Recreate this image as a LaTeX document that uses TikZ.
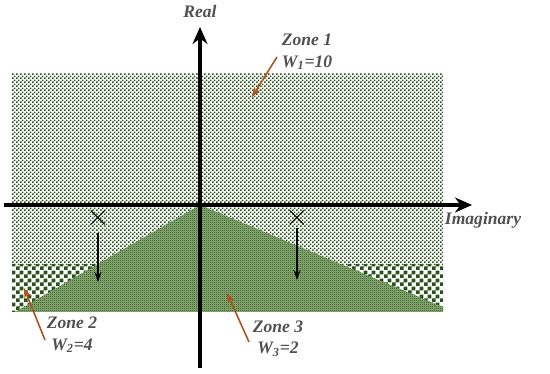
\documentclass[tikz,border=0pt]{standalone}
\usepackage{fontspec}
\setmainfont{Liberation Serif}
\usepackage{xcolor}
\usepackage{tikz}
\usetikzlibrary{arrows.meta,patterns,positioning}

\definecolor{zonegreen}{RGB}{38,84,24}
\definecolor{zonefill}{RGB}{140,170,118}
\definecolor{pointer}{RGB}{176,82,30}
\definecolor{labelgray}{RGB}{80,80,80}

% dotted pattern for zone 1
\pgfdeclarepatternformonly{zone dots}{\pgfqpoint{0pt}{0pt}}{\pgfqpoint{2.4pt}{2.4pt}}{\pgfqpoint{2.4pt}{2.4pt}}{
  \pgfpathrectangle{\pgfqpoint{0pt}{0pt}}{\pgfqpoint{1.1pt}{1.1pt}}
  \pgfpathrectangle{\pgfqpoint{1.2pt}{1.2pt}}{\pgfqpoint{1.1pt}{1.1pt}}
  \pgfusepath{fill}}
% coarse checker for zone 2
\pgfdeclarepatternformonly{zone checker}{\pgfqpoint{0pt}{0pt}}{\pgfqpoint{4.6pt}{4.6pt}}{\pgfqpoint{4.6pt}{4.6pt}}{
  \pgfpathrectangle{\pgfqpoint{0pt}{0pt}}{\pgfqpoint{2.3pt}{2.3pt}}
  \pgfpathrectangle{\pgfqpoint{2.3pt}{2.3pt}}{\pgfqpoint{2.3pt}{2.3pt}}
  \pgfusepath{fill}}
% fine checker for zone 3
\pgfdeclarepatternformonly{zone fine}{\pgfqpoint{0pt}{0pt}}{\pgfqpoint{1.2pt}{1.2pt}}{\pgfqpoint{1.2pt}{1.2pt}}{
  \pgfpathrectangle{\pgfqpoint{0pt}{0pt}}{\pgfqpoint{0.6pt}{0.6pt}}
  \pgfpathrectangle{\pgfqpoint{0.6pt}{0.6pt}}{\pgfqpoint{0.6pt}{0.6pt}}
  \pgfusepath{fill}}

\begin{document}
\begin{tikzpicture}[
    axis/.style={line width=2.2pt,-{Stealth[length=3.4mm,width=3mm]}},
    zonelabel/.style={font=\fontsize{10}{12}\selectfont\bfseries\itshape,text=labelgray,align=center,inner sep=1pt},
    pointerline/.style={draw=pointer,line width=0.9pt,-{Stealth[length=2mm,width=1.4mm]}},
    drop/.style={line width=0.7pt,-{Stealth[length=2mm,width=1.4mm]}},
    pole/.style={font=\LARGE,inner sep=0pt},
]
    \useasboundingbox (0,0) rectangle (11,7.48);

    % zones
    \fill[white] (0.24,1.24) rectangle (8.86,6.0);
    \fill[pattern=zone dots,pattern color=zonegreen] (0.24,1.24) rectangle (8.86,6.0);
    \fill[white] (0.24,1.24) rectangle (8.86,2.18);
    \fill[pattern=zone checker,pattern color=zonegreen] (0.24,1.24) rectangle (8.86,2.18);
    \begin{scope}
        \clip (0.24,1.24) rectangle (8.86,6.0);
        \fill[zonefill] (4.0,3.38) -- (0.3,1.24) -- (9.1,1.24) -- cycle;
        \fill[pattern=zone fine,pattern color=zonegreen] (4.0,3.38) -- (0.3,1.24) -- (9.1,1.24) -- cycle;
    \end{scope}

    % axes
    \coordinate (hstart) at (0.08,3.38);
    \coordinate (hend) at (9.44,3.38);
    \coordinate (vstart) at (4.0,0.12);
    \coordinate (vend) at (4.0,6.94);
    \draw[axis] (hstart) -- (hend);
    \draw[axis] (vstart) -- (vend);
    \node[zonelabel] (real) at (4.0,7.26) {Real};
    \node[zonelabel] (imag) at (9.66,3.07) {Imaginary};

    % poles
    \node[pole] (p1) at (1.96,3.13) {$\times$};
    \node[pole] (p2) at (5.94,3.13) {$\times$};
    \coordinate (p1end) at (1.96,1.84);
    \coordinate (p2end) at (5.94,1.88);
    \draw[drop] (p1) ++(0,-0.32) -- (p1end);
    \draw[drop] (p2) ++(0,-0.22) -- (p2end);

    % zone labels
    \node[zonelabel] (z1) at (6.14,6.44) {Zone 1\\W\textsubscript{1}=10};
    \node[zonelabel] (z2) at (1.44,0.78) {Zone 2\\W\textsubscript{2}=4};
    \node[zonelabel] (z3) at (5.56,0.71) {Zone 3\\W\textsubscript{3}=2};
    \coordinate (z1tip) at (5.04,5.54);
    \coordinate (z2tip) at (0.48,1.72);
    \coordinate (z3tip) at (4.54,1.62);
    \draw[pointerline] (5.54,6.34) -- (z1tip);
    \draw[pointerline] (0.9,0.68) -- (z2tip);
    \draw[pointerline] (4.98,0.64) -- (z3tip);
\end{tikzpicture}
\end{document}
